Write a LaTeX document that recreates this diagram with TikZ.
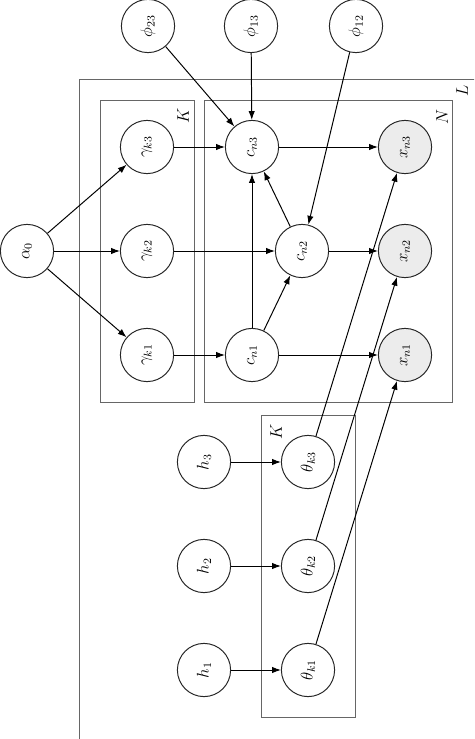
\documentclass[tikz,border=0pt]{standalone}
\usetikzlibrary{arrows.meta}
\tikzset{
  latent/.style={circle,draw=black!85,line width=0.7pt,minimum size=13.3mm,inner sep=0pt,rotate=90,font=\large},
  obs/.style={latent,fill=gray!15},
  plate/.style={draw=black!60,line width=0.6pt},
  platelbl/.style={rotate=90,font=\large},
  edge/.style={-{Latex[length=2.2mm,width=1.6mm]},line width=0.7pt},
}

\begin{document}
\begin{tikzpicture}[x=0.25mm,y=-0.25mm]
  \clip (0,0) rectangle (474,739);
  \useasboundingbox (0,0) rectangle (474,739);
  % plates
  \draw[plate] (79,79) rectangle (500,760);
  \draw[plate] (100,100) rectangle (194,402);
  \draw[plate] (204,100) rectangle (452,402);
  \draw[plate] (261,415) rectangle (355,717);
  \node[platelbl] (lblL) at (462,91) {$L$};
  \node[platelbl] (lblK) at (183,116) {$K$};
  \node[platelbl] (lblN) at (442,117) {$N$};
  \node[platelbl] (lblKt) at (276,432) {$K$};
  % top row
  \node[latent] (phi23) at (148,26) {$\phi_{23}$};
  \node[latent] (phi13) at (251,26) {$\phi_{13}$};
  \node[latent] (phi12) at (356,26) {$\phi_{12}$};
  \node[latent] (a0) at (27,251) {$\alpha_0$};
  % per-row nodes (gamma, c, x)
  \node[latent] (g3) at (147,147) {$\gamma_{k3}$};
  \node[latent] (g2) at (147,251) {$\gamma_{k2}$};
  \node[latent] (g1) at (147,355) {$\gamma_{k1}$};
  \node[latent] (c3) at (252,147) {$c_{n3}$};
  \node[latent] (c2) at (302,251) {$c_{n2}$};
  \node[latent] (c1) at (252,355) {$c_{n1}$};
  \foreach \i/\y in {1/355,2/251,3/147}
    \node[obs] (x\i) at (405,\y) {$x_{n\i}$};
  % h -> theta
  \foreach \i/\y in {1/670,2/566,3/462}{
    \node[latent] (h\i) at (204,\y) {$h_\i$};
    \node[latent] (t\i) at (308,\y) {$\theta_{k\i}$};
  }
  % edges
  \foreach \i in {1,2,3}{
    \draw[edge] (a0) -- (g\i);
    \draw[edge] (g\i) -- (c\i);
    \draw[edge] (c\i) -- (x\i);
    \draw[edge] (h\i) -- (t\i);
    \draw[edge] (t\i) -- (x\i);
  }
  \draw[edge] (phi23) -- (c3);
  \draw[edge] (phi13) -- (c3);
  \draw[edge] (phi12) -- (c2);
  \draw[edge] (c1) -- (c3);
  \draw[edge] (c1) -- (c2);
  \draw[edge] (c2) -- (c3);
\end{tikzpicture}
\end{document}
